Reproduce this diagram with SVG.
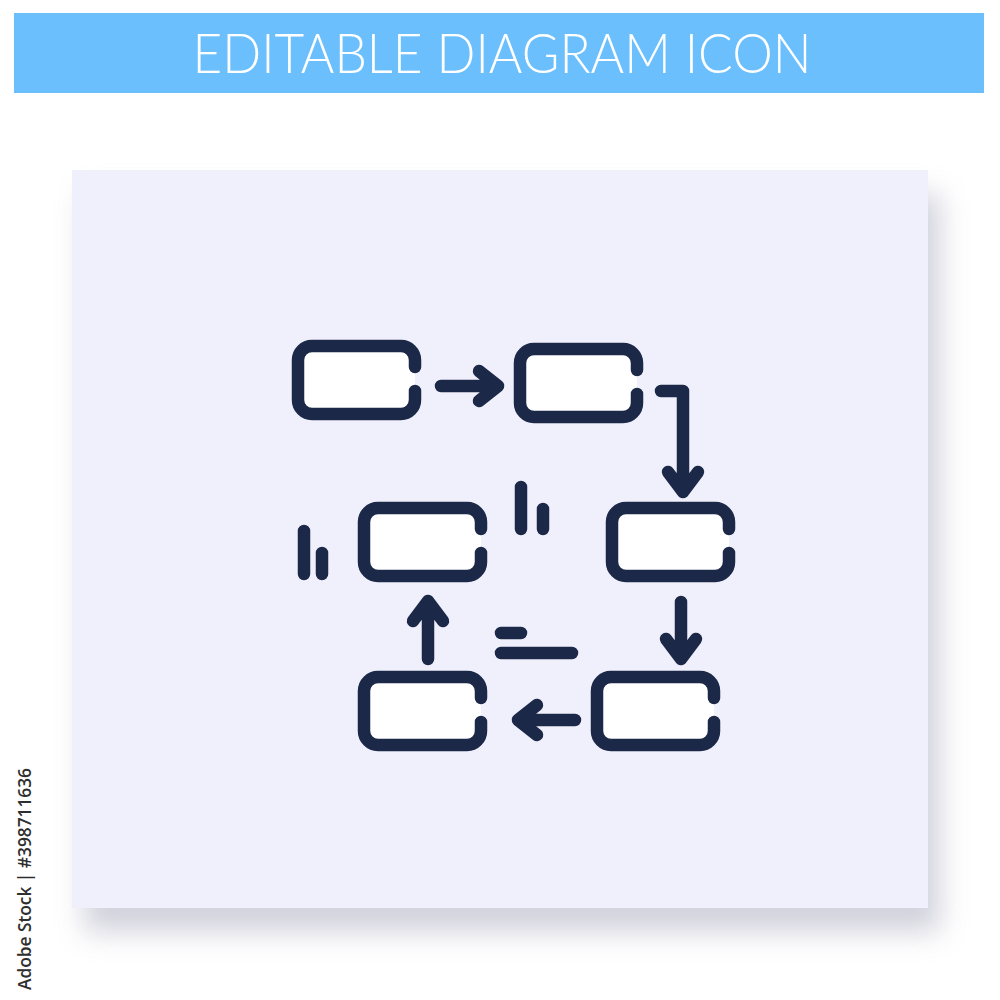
<svg xmlns="http://www.w3.org/2000/svg" xmlns:xlink="http://www.w3.org/1999/xlink" width="1000" height="1000" viewBox="0 0 1000 1000">
  <style>
    .ln { fill: none; stroke: #1B2847; stroke-width: 12.5; stroke-linecap: round; stroke-linejoin: round; }
    .boxfill { fill: #FFFFFF; }
    .title { font-family: "Lato", "Open Sans", "Liberation Sans", sans-serif; font-weight: 300; font-size: 55px; fill: #FFFFFF; }
    .side { font-family: "Open Sans", "Liberation Sans", sans-serif; font-weight: 600; font-size: 18px; fill: #2E2E2E; }
  </style>
  <defs>
    <filter id="blur" x="-20%" y="-20%" width="140%" height="140%">
      <feGaussianBlur stdDeviation="14"/>
    </filter>
    <g id="box">
      <rect class="boxfill" x="6" y="6" width="117" height="68" rx="14"/>
      <path class="ln" d="M123,27 V20 A14,14 0 0 0 109,6 H20 A14,14 0 0 0 6,20 V60 A14,14 0 0 0 20,74 H109 A14,14 0 0 0 123,60 V51"/>
    </g>
  </defs>

  <rect x="0" y="0" width="1000" height="1000" fill="#FFFFFF"/>

  <!-- header banner -->
  <g id="header">
    <rect x="14" y="13" width="970" height="80" fill="#6CBFFD"/>
    <text class="title" x="502" y="73" text-anchor="middle" textLength="619" lengthAdjust="spacingAndGlyphs">EDITABLE DIAGRAM ICON</text>
  </g>

  <!-- card with shadow -->
  <g id="card">
    <rect x="84" y="194" width="856" height="738" fill="#B4B4C6" opacity="0.6" filter="url(#blur)"/>
    <rect x="72" y="170" width="856" height="738" fill="#F0F0FC"/>
  </g>

  <!-- nodes -->
  <g id="node1"><use xlink:href="#box" href="#box" transform="translate(292,340)"/></g>
  <g id="node2"><use xlink:href="#box" href="#box" transform="translate(514,343)"/></g>
  <g id="node3"><use xlink:href="#box" href="#box" transform="translate(606,502)"/></g>
  <g id="node4"><use xlink:href="#box" href="#box" transform="translate(358,502)"/></g>
  <g id="node5"><use xlink:href="#box" href="#box" transform="translate(591,671)"/></g>
  <g id="node6"><use xlink:href="#box" href="#box" transform="translate(358,671)"/></g>

  <!-- connectors -->
  <g id="connectors">
    <path class="ln" d="M441,386 H498 M479,371 L498,386 L479,401"/>
    <path class="ln" d="M661,391 H683 V492 M668,472 L683,492 L698,472"/>
    <path class="ln" d="M681,602 V659 M666,639 L681,659 L696,639"/>
    <path class="ln" d="M575,720 H518 M537,705 L518,720 L537,735"/>
    <path class="ln" d="M428,659 V601 M413,621 L428,601 L443,621"/>
  </g>

  <!-- decorative marks -->
  <g id="marks">
    <path class="ln" d="M304,531 V574 M322,553 V574"/>
    <path class="ln" d="M521,487 V529 M543,509 V529"/>
    <path class="ln" d="M501,633 H521 M501,653 H572"/>
  </g>

  <text class="side" transform="translate(31,990) rotate(-90)" textLength="222" lengthAdjust="spacingAndGlyphs">Adobe Stock | #398711636</text>
</svg>
